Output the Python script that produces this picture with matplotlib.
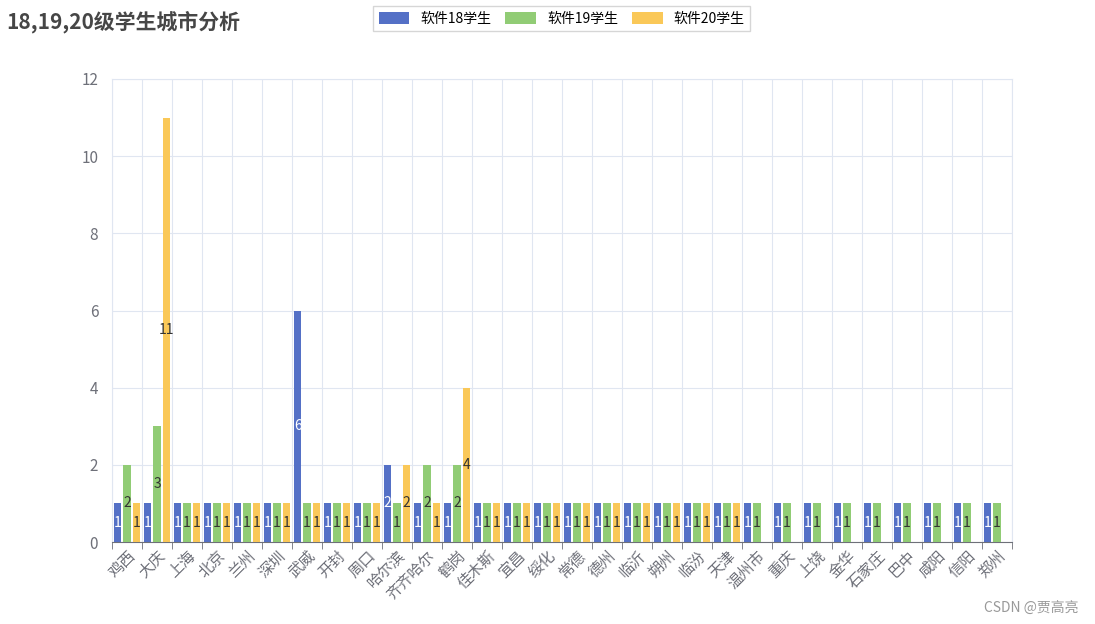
import matplotlib
matplotlib.use('Agg')
import matplotlib.pyplot as plt
import numpy as np

plt.rcParams['font.family'] = ['Noto Sans CJK SC', 'DejaVu Sans']

# data
cities = ['鸡西', '大庆', '上海', '北京', '兰州', '深圳', '武威', '开封', '周口', '哈尔滨',
          '齐齐哈尔', '鹤岗', '佳木斯', '宜昌', '绥化', '常德', '德州', '临沂', '朔州', '临汾',
          '天津', '温州市', '重庆', '上饶', '金华', '石家庄', '巴中', '咸阳', '信阳', '郑州']
s18 = [1, 1, 1, 1, 1, 1, 6, 1, 1, 2, 1, 1, 1, 1, 1, 1, 1, 1, 1, 1, 1, 1, 1, 1, 1, 1, 1, 1, 1, 1]
s19 = [2, 3, 1, 1, 1, 1, 1, 1, 1, 1, 2, 2, 1, 1, 1, 1, 1, 1, 1, 1, 1, 1, 1, 1, 1, 1, 1, 1, 1, 1]
s20 = [1, 11, 1, 1, 1, 1, 1, 1, 1, 2, 1, 4, 1, 1, 1, 1, 1, 1, 1, 1, 1, 0, 0, 0, 0, 0, 0, 0, 0, 0]
names = ['软件18学生', '软件19学生', '软件20学生']
colors = ['#5470c6', '#91cc75', '#fac858']

fig = plt.figure(figsize=(10.95, 6.24), dpi=100)
ax = fig.add_axes([0.1023, 0.1314, 0.8219, 0.742])

x = np.arange(len(cities))
w = 0.25
for k, (vals, nm, c) in enumerate(zip([s18, s19, s20], names, colors)):
    xs = x + (k - 1) * 0.31
    ax.bar(xs, vals, width=w, color=c, label=nm, zorder=3)
    for xi, v in zip(xs, vals):
        if v > 0:
            ax.text(xi, v / 2, str(v), ha='center', va='center', fontsize=10,
                    color='white' if k == 0 else '#333333', zorder=4)

ax.set_xlim(-0.5, len(cities) - 0.5)
ax.set_ylim(0, 12)
ax.set_yticks(range(0, 13, 2))
ax.set_xticks(x)
ax.set_xticklabels(cities, rotation=45, ha='right', rotation_mode='anchor', fontsize=11, color='#6e7079')
ax.set_xticks(np.arange(-0.5, len(cities), 1), minor=True)
ax.tick_params(axis='x', which='major', length=0, pad=4)
ax.tick_params(axis='x', which='minor', length=5, color='#6e7079')
ax.tick_params(axis='y', length=0, labelsize=11, labelcolor='#6e7079', pad=10)
ax.grid(axis='y', color='#e0e6f1', zorder=0)
ax.grid(axis='x', which='minor', color='#e0e6f1', zorder=0)
for s in ['top', 'right', 'left']:
    ax.spines[s].set_color('#e0e6f1')
ax.spines['bottom'].set_color('#6e7079')

fig.text(0.006, 0.965, '18,19,20级学生城市分析', fontsize=15, fontweight='bold', color='#464646', va='center')
fig.legend(loc='center', bbox_to_anchor=(0.513, 0.97), ncol=3, fontsize=10, frameon=True,
           edgecolor='#cccccc', fancybox=False, handlelength=2.2, handleheight=1.0, columnspacing=1.0)
fig.text(0.985, 0.018, 'CSDN @贾高亮', fontsize=10, color='#999999', ha='right')

fig.savefig('out.png')
